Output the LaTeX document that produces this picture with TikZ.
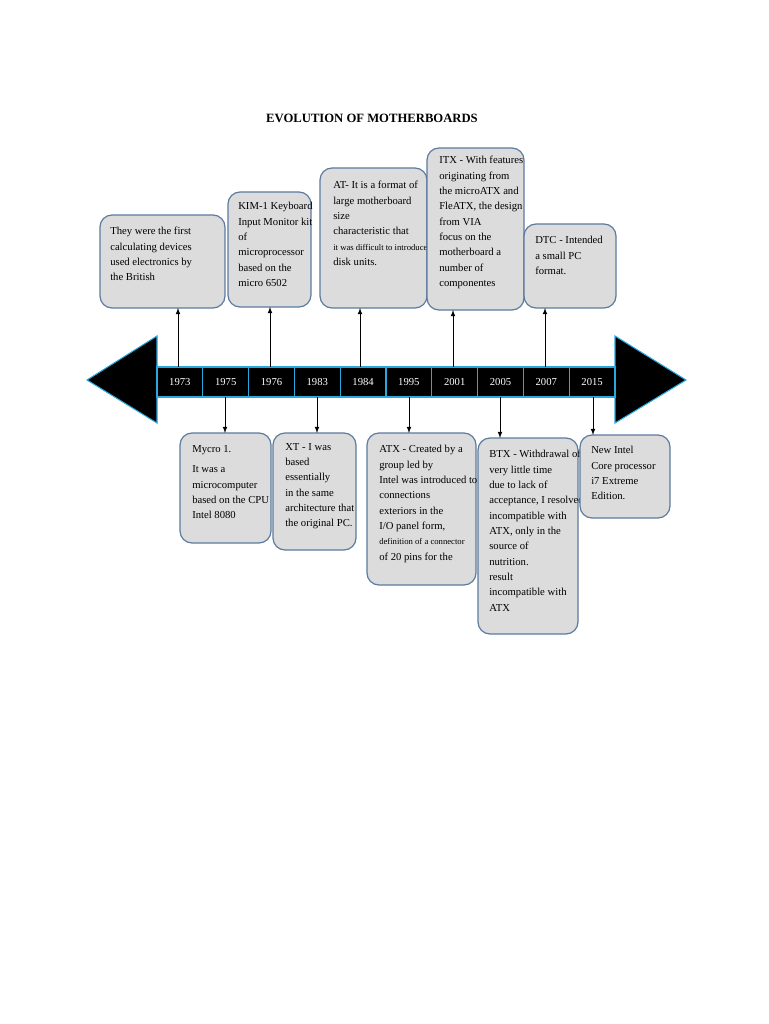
\documentclass[tikz,border=0pt]{standalone}
\usepackage{fontspec}
\setmainfont{Liberation Serif}
\begin{document}
\begin{tikzpicture}[x=0.75pt,y=-0.75pt,
  box/.style={draw=boxblue,fill=boxgray,rounded corners=9pt,line width=0.9pt},
  txt/.style={anchor=north west,align=left,font=\fontsize{8}{11.5}\selectfont,inner sep=0pt},
  cell/.style={draw=barblue,fill=black,line width=0.8pt},
  yr/.style={text=white,font=\fontsize{8}{9}\selectfont},
  arr/.style={-latex,line width=0.6pt}]
\definecolor{boxgray}{HTML}{DCDCDC}
\definecolor{boxblue}{HTML}{5B7BA0}
\definecolor{barblue}{HTML}{29A8E0}
\useasboundingbox (0,0) rectangle (768,1024);
\node[font=\bfseries\fontsize{9.5}{11}\selectfont] (title) at (372,118) {EVOLUTION OF MOTHERBOARDS};
% arrows heads
\draw[cell] (157,336) -- (87,380) -- (157,423) -- cycle;
\draw[cell] (615,336) -- (686,380) -- (615,423) -- cycle;
\foreach \y [count=\i from 0] in {1973,1975,1976,1983,1984,1995,2001,2005,2007,2015}{
  \pgfmathsetmacro\xa{157+\i*45.8}
  \draw[cell] (\xa,367) rectangle ++(45.8,30);
  \node[yr] (y\y) at (\xa+22.9,382) {\y};
}
% top boxes
\draw[box] (100,215) rectangle (225,308);
\node[txt] (t1) at (110,227) {They were the first\\calculating devices\\used electronics by\\the British};
\draw[box] (228,192) rectangle (311,307);
\node[txt] (t2) at (238,202) {KIM-1 Keyboard\\Input Monitor kit\\of\\microprocessor\\based on the\\micro 6502};
\draw[box] (320,168) rectangle (427,308);
\node[txt] (t3) at (333,181) {AT- It is a format of\\large motherboard\\size\\characteristic that\\{\fontsize{6.5}{11.5}\selectfont it was difficult to introduce}\\disk units.};
\draw[box] (427,148) rectangle (524,310);
\node[txt] (t4) at (439,156) {ITX - With features\\originating from\\the microATX and\\FleATX, the design\\from VIA\\focus on the\\motherboard a\\number of\\componentes};
\draw[box] (524,224) rectangle (616,308);
\node[txt] (t5) at (535,236) {DTC - Intended\\a small PC\\format.};
% bottom boxes
\draw[box] (180,433) rectangle (271,543);
\node[txt] (b1) at (192,445) {Mycro 1.\\[4pt]It was a\\microcomputer\\based on the CPU\\Intel 8080};
\draw[box] (273,433) rectangle (356,550);
\node[txt] (b2) at (285,443) {XT - I was\\based\\essentially\\in the same\\architecture that\\the original PC.};
\draw[box] (367,433) rectangle (476,585);
\node[txt] (b3) at (379,445) {ATX - Created by a\\group led by\\Intel was introduced to the\\connections\\exteriors in the\\I/O panel form,\\{\fontsize{6.5}{11.5}\selectfont definition of a connector}\\of 20 pins for the};
\draw[box] (478,438) rectangle (578,634);
\node[txt] (b4) at (489,450) {BTX - Withdrawal of\\very little time\\due to lack of\\acceptance, I resolved\\incompatible with\\ATX, only in the\\source of\\nutrition.\\result\\incompatible with\\ATX};
\draw[box] (580,435) rectangle (670,518);
\node[txt] (b5) at (591,446) {New Intel\\Core processor\\i7 Extreme\\Edition.};
% connectors
\coordinate (u1) at (178,367); \coordinate (U1) at (178,308);
\coordinate (u2) at (270,367); \coordinate (U2) at (270,307);
\coordinate (u3) at (360,367); \coordinate (U3) at (360,308);
\coordinate (u4) at (453,367); \coordinate (U4) at (453,310);
\coordinate (u5) at (545,367); \coordinate (U5) at (545,308);
\foreach \i in {1,...,5} \draw[arr] (u\i) -- (U\i);
\coordinate (d1) at (225,397); \coordinate (D1) at (225,433);
\coordinate (d2) at (317,397); \coordinate (D2) at (317,433);
\coordinate (d3) at (409,397); \coordinate (D3) at (409,433);
\coordinate (d4) at (500,397); \coordinate (D4) at (500,438);
\coordinate (d5) at (593,397); \coordinate (D5) at (593,435);
\foreach \i in {1,...,5} \draw[arr] (d\i) -- (D\i);
\end{tikzpicture}
\end{document}
